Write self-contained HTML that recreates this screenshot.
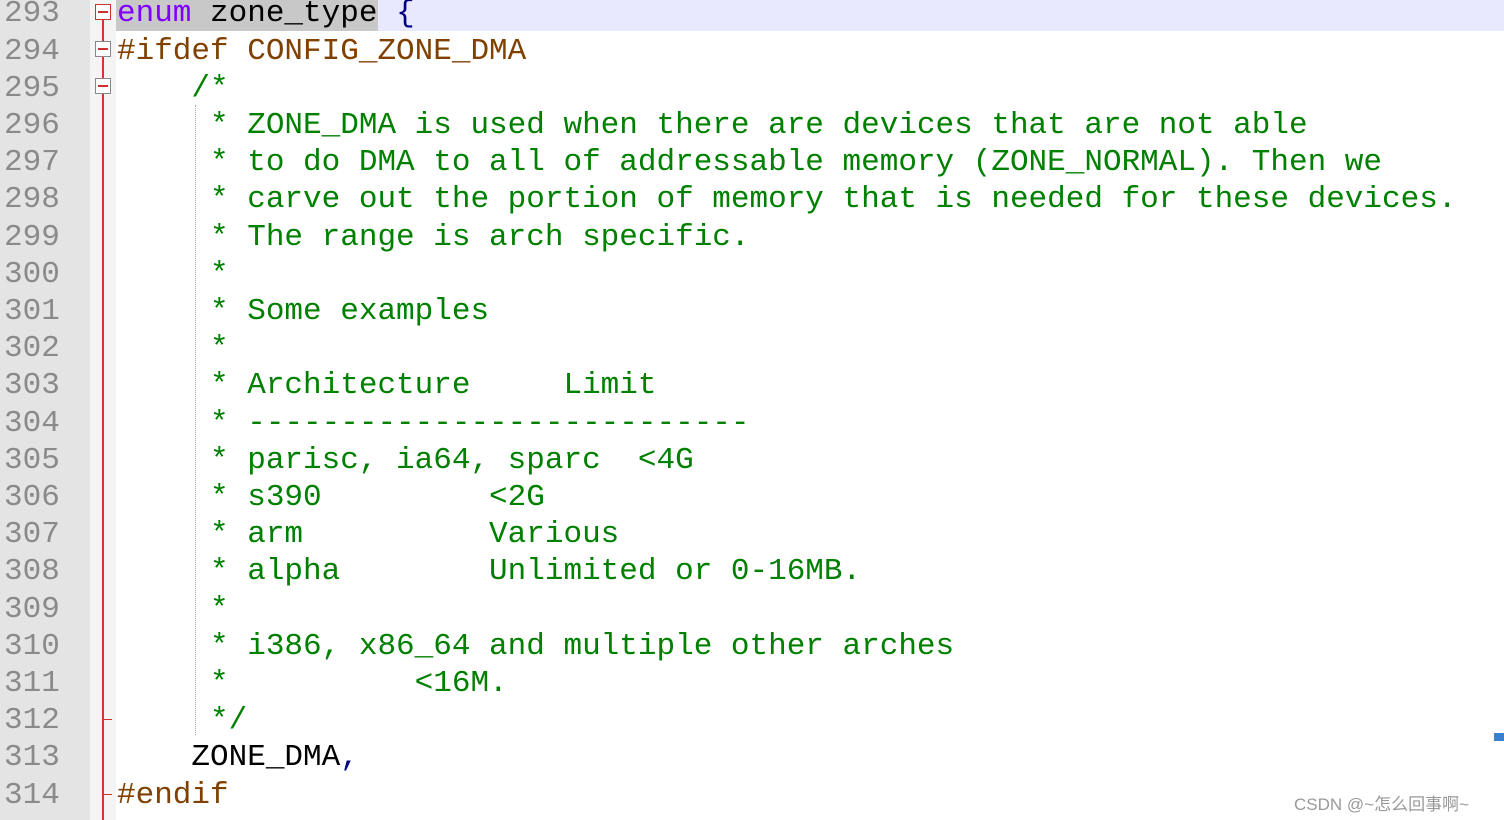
<!DOCTYPE html>
<html><head><meta charset="utf-8"><style>
html,body{margin:0;padding:0;width:1504px;height:820px;overflow:hidden;background:#fff;position:relative}
.ln{position:absolute;left:0;top:0;width:90px;height:820px;background:#e4e4e4}
.fold{position:absolute;left:90px;top:0;width:26px;height:820px;background:#f4f4f4}
.red{position:absolute;left:102px;top:12px;width:2px;height:808px;background:#e03030}
.hl{position:absolute;left:116px;top:-6px;width:1388px;height:37px;background:#e8e8ff}
.sel{position:absolute;left:116px;top:-6px;width:262px;height:37px;background:#c8c8c8}
pre{position:absolute;margin:0;font-family:"Liberation Mono",monospace;font-size:31px;line-height:37.2px;white-space:pre}
.nums{left:4px;top:-4.6px;color:#8a8a8a}
.code{left:117px;top:-4.6px;color:#000}
.c{color:#008000}.p{color:#804000}.k{color:#8000ff}.o{color:#000080}
.box{position:absolute;left:95px;width:16px;height:16px;border:1px solid #d03030;background:#fff;box-sizing:border-box}
.box:after{content:"";position:absolute;left:2px;right:2px;top:6px;height:2px;background:#d03030}
.guide{position:absolute;left:195px;top:105px;height:630px;border-left:1px dotted #aaa}
.tick{position:absolute;left:104px;width:8px;height:1px;background:#d03030}
</style></head><body>
<div class="ln"></div><div class="fold"></div>
<div class="hl"></div><div class="sel"></div>
<div class="red"></div>
<div class="box" style="top:4px"></div>
<div class="box" style="top:41px;border-color:#888"></div>
<div class="box" style="top:78px;border-color:#888"></div>
<div class="tick" style="top:719px"></div>
<div class="tick" style="top:794px"></div>
<div class="guide"></div>
<pre class="nums">293
294
295
296
297
298
299
300
301
302
303
304
305
306
307
308
309
310
311
312
313
314</pre>
<pre class="code"><span class="k">enum</span> zone_type <span class="o">{</span>
<span class="p">#ifdef CONFIG_ZONE_DMA</span>
<span class="c">    /*
     * ZONE_DMA is used when there are devices that are not able
     * to do DMA to all of addressable memory (ZONE_NORMAL). Then we
     * carve out the portion of memory that is needed for these devices.
     * The range is arch specific.
     *
     * Some examples
     *
     * Architecture     Limit
     * ---------------------------
     * parisc, ia64, sparc  &lt;4G
     * s390         &lt;2G
     * arm          Various
     * alpha        Unlimited or 0-16MB.
     *
     * i386, x86_64 and multiple other arches
     *          &lt;16M.
     */</span>
    ZONE_DMA<span class="o">,</span>
<span class="p">#endif</span></pre>
<div style="position:absolute;left:1494px;top:733px;width:10px;height:8px;background:#3a7fd0"></div>
<div style="position:absolute;left:1294px;top:790px;font-family:'Liberation Sans','Noto Sans CJK SC',sans-serif;font-size:17px;color:#999">CSDN @~怎么回事啊~</div>
</body></html>
